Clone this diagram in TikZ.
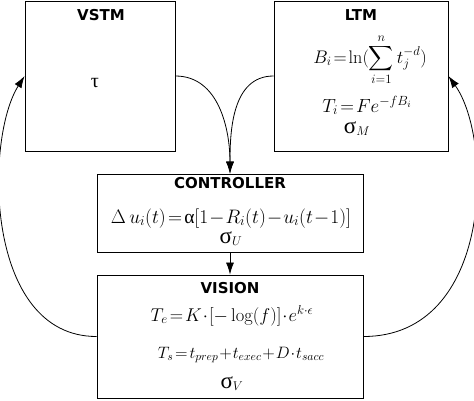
\RequirePackage{fix-cm}
\documentclass[tikz,border=0pt]{standalone}
\usepackage{fontspec}
\usepackage{amsmath}
\newfontfamily\ttl{DejaVu Sans}
\newfontfamily\grk{Liberation Serif}
\usetikzlibrary{arrows.meta}
\begin{document}
\begin{tikzpicture}[x=1pt,y=-1pt,
  box/.style={draw, line width=0.9pt, inner sep=0pt},
  title/.style={font=\ttl\bfseries\fontsize{15}{18}\selectfont, inner sep=0pt},
  eq/.style={anchor=base, font=\fontsize{17}{20}\selectfont, inner sep=0pt},
  sig/.style={anchor=base, font=\fontsize{18}{20}\selectfont, inner sep=0pt},
  conn/.style={line width=0.8pt, -{Latex[length=12pt,width=8pt]}}]
\useasboundingbox (0,0) rectangle (474,400);
% boxes
\node[box, minimum width=150pt, minimum height=150pt] (vstm) at (100,76) {};
\node[box, minimum width=174pt, minimum height=150pt] (ltm) at (361,76) {};
\node[box, minimum width=266pt, minimum height=78pt] (ctrl) at (230,213) {};
\node[box, minimum width=266pt, minimum height=123pt] (vis) at (230,336.5) {};
% VSTM
\node[title] (t1) at (101,15) {VSTM};
\node[eq, font=\grk\fontsize{20}{22}\selectfont] (tau) at (95,87) {τ};
% LTM
\node[title] (t2) at (361,15) {LTM};
\node[eq, font=\fontsize{18.2}{20}\selectfont] (b) at (370,63) {$B_i\!=\!\ln(\displaystyle\sum_{i=1}^{n} t_j^{-d})$};
\node[eq, font=\fontsize{19}{21}\selectfont] (ti) at (367,112) {$T_i\!=\!Fe^{-fB_i}$};
\node[sig] (sm) at (357,133) {{\grk\fontsize{23}{24}\selectfont σ}$_M$};
% CONTROLLER
\node[title] (t3) at (230,183) {CONTROLLER};
\node[eq, font=\fontsize{19.5}{21}\selectfont] (du) at (231,223) {$\Delta\,u_i(t)\!=\!\mbox{\grk α}[1\!-\!R_i(t)\!-\!u_i(t\!-\!1)]$};
\node[sig] (su) at (231,243) {{\grk\fontsize{23}{24}\selectfont σ}$_U$};
% VISION
\node[title] (t4) at (230,288) {VISION};
\node[eq, font=\fontsize{18.5}{20}\selectfont] (te) at (232,321) {$T_e\!=\!K\!\cdot\![-\log(f)]\!\cdot\! e^{k\cdot\epsilon}$};
\node[eq, font=\fontsize{16.5}{20}\selectfont] (ts) at (241,358) {$T_s\!=\!t_{prep}\!+\!t_{exec}\!+\!D\!\cdot\! t_{sacc}$};
\node[sig] (sv) at (232,388) {{\grk\fontsize{23}{24}\selectfont σ}$_V$};
% connectors
\draw[conn] (vstm.east) to[out=0,in=90] (ctrl.north);
\draw[conn] (ltm.west) to[out=180,in=90] (ctrl.north);
\draw[conn] (ctrl.south) -- (vis.north);
\draw[conn] (vis.west) .. controls +(-112,0) and +(-40,63) .. (vstm.west);
\draw[conn] (vis.east) .. controls +(130,0) and +(45,63) .. (ltm.east);
\end{tikzpicture}
\end{document}
